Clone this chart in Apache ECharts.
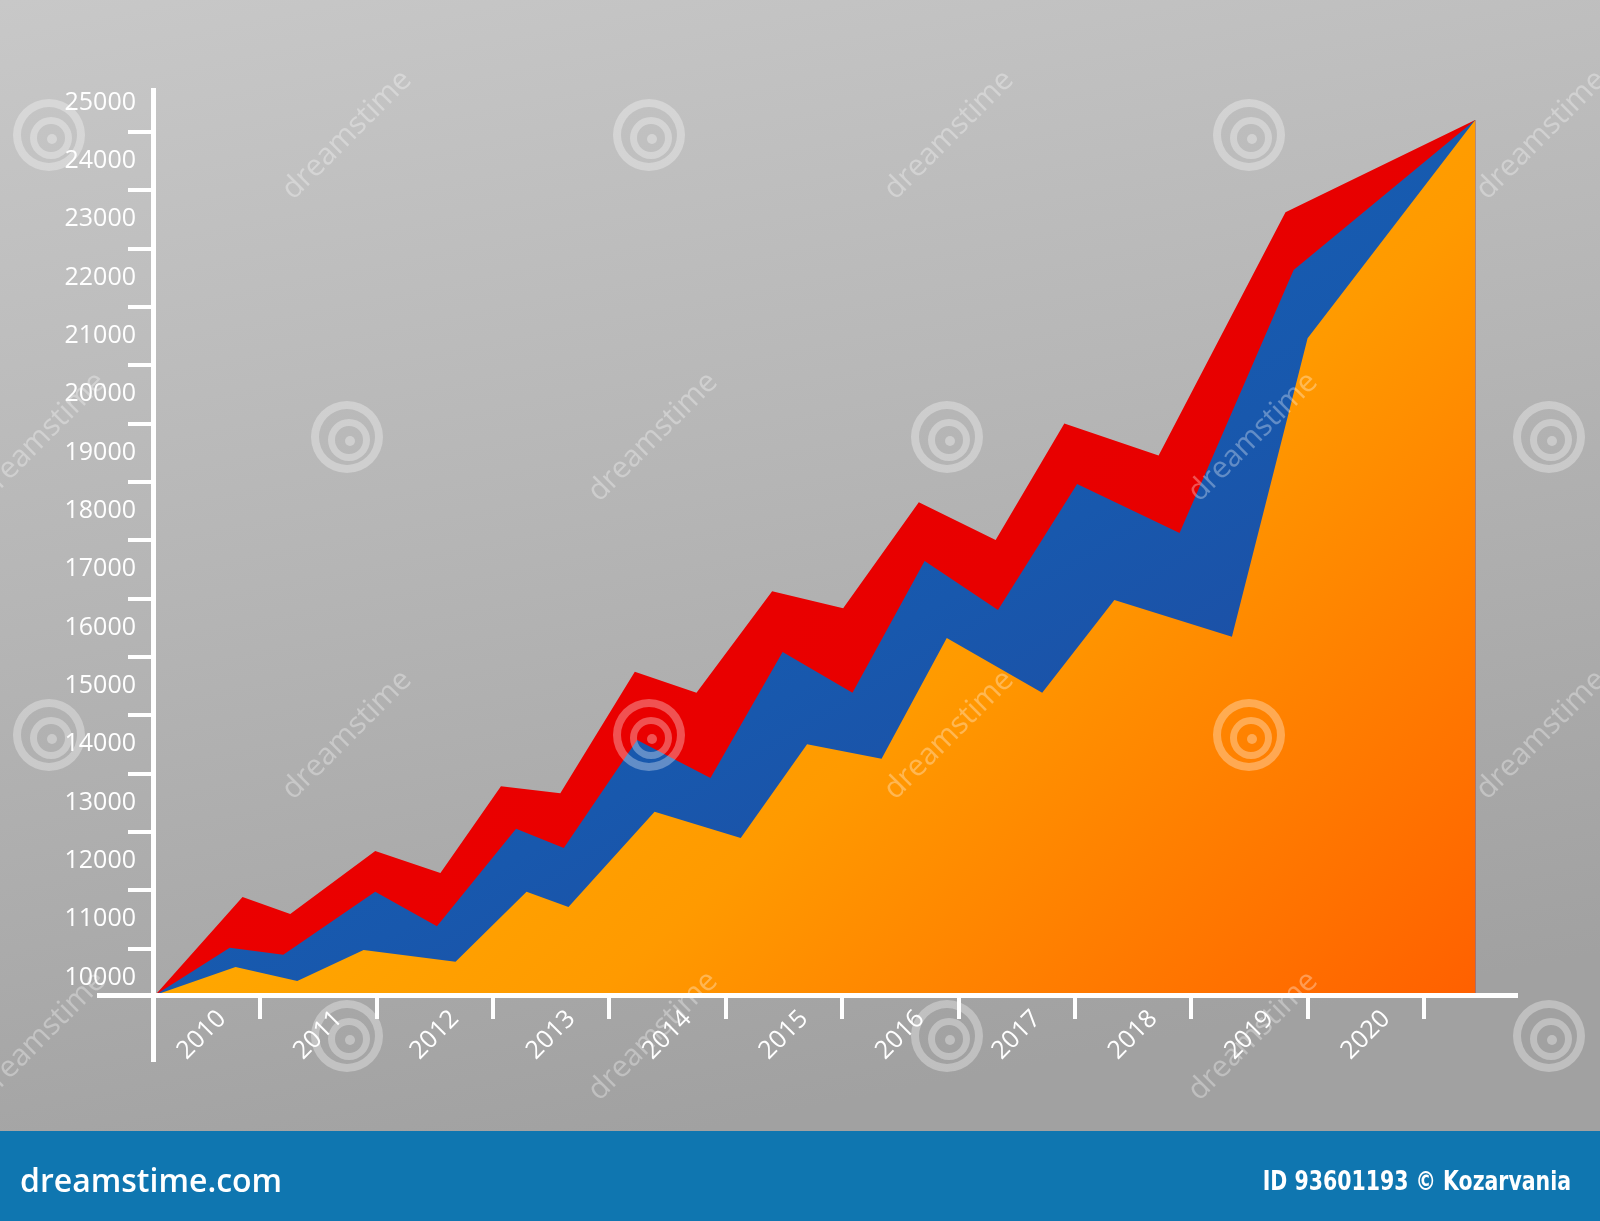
<!DOCTYPE html>
<html>
<head>
<meta charset="utf-8">
<script src="https://cdn.jsdelivr.net/npm/echarts@6.0.0/dist/echarts.min.js"></script>
<style>
html,body{margin:0;padding:0;background:#b5b5b5;}
#chart{width:1600px;height:1221px;}
</style>
</head>
<body>
<div id="chart"></div>
<script>
// ---- data ----
const years = [2010, 2011, 2012, 2013, 2014, 2015, 2016, 2017, 2018, 2019, 2020];
const yLabels = [10000, 11000, 12000, 13000, 14000, 15000, 16000, 17000, 18000, 19000, 20000, 21000, 22000, 23000, 24000, 25000];

// top (red) band outline
const redX = [2009.6, 2010.35, 2010.76, 2011.49, 2012.05, 2012.57, 2013.08, 2013.72, 2014.25, 2014.90, 2015.51, 2016.16, 2016.82, 2017.41, 2018.22, 2019.31, 2020.94];
const redY = [9700, 11380, 11090, 12170, 11790, 13280, 13160, 15240, 14880, 16620, 16330, 18150, 17500, 19500, 18950, 23120, 24700];
// middle (blue) band outline
const blueX = [2009.6, 2010.24, 2010.70, 2011.49, 2012.02, 2012.70, 2013.11, 2013.74, 2014.37, 2014.99, 2015.59, 2016.21, 2016.84, 2017.52, 2018.40, 2019.38, 2020.94];
const blueY = [9700, 10510, 10390, 11470, 10880, 12550, 12220, 14070, 13420, 15580, 14880, 17140, 16300, 18460, 17620, 22130, 24700];
// bottom (orange) band outline
const orangeX = [2009.6, 2010.29, 2010.82, 2011.39, 2012.18, 2012.79, 2013.15, 2013.89, 2014.63, 2015.20, 2015.84, 2016.40, 2017.22, 2017.84, 2018.85, 2019.50, 2020.94];
const orangeY = [9700, 10180, 9940, 10470, 10270, 11470, 11210, 12840, 12390, 14000, 13750, 15820, 14880, 16470, 15840, 20960, 24700];

const footerLeft = 'dreamstime.com';
const footerRight = 'ID 93601193 \u00A9 Kozarvania';
const watermarkText = 'dreamstime';

// ---- build ----
const pairs = (xs, ys) => xs.map((x, i) => [x, ys[i]]);
const xTicks = years.map(y => y + 0.5);
const yTicks = yLabels.slice(0, -1).map(v => v + 500);

const X_MIN = 2009.5808, X_MAX = 2021.3076;
const Y_MIN = 9700, Y_MAX = 25250;

const chart = echarts.init(document.getElementById('chart'), null, {renderer: 'canvas'});

const white = '#ffffff';
const font = '"Open Sans", "Noto Sans", sans-serif';
const wm = 'rgba(255,255,255,0.32)';

// watermark grid (decorative, from the stock-image overlay)
const wmGraphics = [];
const spiralCols = [49, 649, 1249], spiralColsB = [347, 947, 1549];
const rowsA = [135, 735], rowsB = [437, 1036];
const spiralAt = (cx, cy) => {
  wmGraphics.push({type: 'ring', silent: true, z: 15, shape: {cx, cy, r: 36, r0: 28}, style: {fill: wm}});
  wmGraphics.push({type: 'ring', silent: true, z: 15, shape: {cx: cx + 2, cy: cy + 3, r: 21, r0: 14}, style: {fill: wm}});
  wmGraphics.push({type: 'circle', silent: true, z: 15, shape: {cx: cx + 3, cy: cy + 4, r: 5}, style: {fill: wm}});
};
const wmTextAt = (x, y) => {
  wmGraphics.push({type: 'text', silent: true, z: 15, x, y, rotation: Math.PI / 4,
    style: {text: watermarkText, fill: wm, font: '30px "Open Sans", sans-serif', align: 'center', verticalAlign: 'middle'}});
};
rowsA.forEach(r => spiralCols.forEach(c => spiralAt(c, r)));
rowsB.forEach(r => spiralColsB.forEach(c => spiralAt(c, r)));
rowsA.forEach(r => [347, 949, 1541].forEach(c => wmTextAt(c, r)));
rowsB.forEach(r => [41, 653, 1253].forEach(c => wmTextAt(c, r)));

chart.setOption({
  animation: false,
  backgroundColor: {
    type: 'linear', x: 0, y: 0, x2: 0.15, y2: 1,
    colorStops: [
      {offset: 0, color: '#c8c8c8'},
      {offset: 0.5, color: '#b5b5b5'},
      {offset: 1, color: '#a1a1a1'}
    ]
  },
  grid: [
    {left: 153, top: 88, width: 1365, height: 907, containLabel: false, outerBoundsMode: 'none'},
    {left: 97, top: 88, width: 1421, height: 907, containLabel: false, outerBoundsMode: 'none'},
    {left: 153, top: 88, width: 1365, height: 974, containLabel: false, outerBoundsMode: 'none'}
  ],
  xAxis: [
    {
      gridIndex: 0, type: 'value', min: X_MIN, max: X_MAX,
      axisLine: {show: false, onZero: false},
      splitLine: {show: false},
      axisTick: {show: true, customValues: xTicks, length: 24, lineStyle: {color: white, width: 4}},
      axisLabel: {
        show: true, customValues: years, rotate: 45, align: 'center', verticalAlign: 'middle',
        margin: 40, color: white, fontFamily: font, fontSize: 25,
        formatter: v => String(Math.round(v))
      }
    },
    {
      gridIndex: 1, type: 'value', min: 0, max: 1, z: 10,
      axisLine: {show: true, onZero: false, lineStyle: {color: white, width: 5, cap: 'butt'}},
      axisTick: {show: false}, axisLabel: {show: false}, splitLine: {show: false}
    },
    {gridIndex: 2, type: 'value', min: 0, max: 1, show: false}
  ],
  yAxis: [
    {
      gridIndex: 0, type: 'value', min: Y_MIN, max: Y_MAX,
      axisLine: {show: false, onZero: false},
      splitLine: {show: false},
      axisTick: {show: true, customValues: yTicks, length: 25, lineStyle: {color: white, width: 4}},
      axisLabel: {show: true, customValues: yLabels, margin: 17, color: white, fontFamily: font, fontSize: 25,
        formatter: v => String(v)}
    },
    {gridIndex: 1, type: 'value', min: 0, max: 1, show: false},
    {
      gridIndex: 2, type: 'value', min: 0, max: 1, z: 10,
      axisLine: {show: true, onZero: false, lineStyle: {color: white, width: 5, cap: 'butt'}},
      axisTick: {show: false}, axisLabel: {show: false}, splitLine: {show: false}
    }
  ],
  series: [
    {
      name: 'red', type: 'line', xAxisIndex: 0, yAxisIndex: 0, data: pairs(redX, redY),
      symbol: 'none', silent: true, z: 2,
      lineStyle: {width: 0},
      areaStyle: {origin: 'start', opacity: 1, color: {
        type: 'linear', x: 0, y: 0, x2: 1, y2: 1,
        colorStops: [{offset: 0, color: '#ee0000'}, {offset: 1, color: '#e40000'}]
      }}
    },
    {
      name: 'blue', type: 'line', xAxisIndex: 0, yAxisIndex: 0, data: pairs(blueX, blueY),
      symbol: 'none', silent: true, z: 3,
      lineStyle: {width: 0},
      areaStyle: {origin: 'start', opacity: 1, color: {
        type: 'linear', x: 0.3, y: 0, x2: 0.7, y2: 1,
        colorStops: [{offset: 0, color: '#1366ba'}, {offset: 0.6, color: '#1858ad'}, {offset: 1, color: '#2049a0'}]
      }}
    },
    {
      name: 'orange', type: 'line', xAxisIndex: 0, yAxisIndex: 0, data: pairs(orangeX, orangeY),
      symbol: 'none', silent: true, z: 4,
      lineStyle: {width: 0},
      areaStyle: {origin: 'start', opacity: 1, color: {
        type: 'linear', x: 0.4, y: 0, x2: 1, y2: 1,
        colorStops: [{offset: 0, color: '#ffb400'}, {offset: 0.5, color: '#ff9a00'}, {offset: 1, color: '#ff6000'}]
      }}
    }
  ],
  graphic: wmGraphics.concat([
    {type: 'rect', left: 0, top: 1131, z: 20, shape: {width: 1600, height: 90}, style: {fill: '#0f76b0'}, silent: true},
    {type: 'text', x: 20, y: 1183, z: 21, silent: true,
      style: {text: footerLeft, fill: white, font: '600 32px "Open Sans", sans-serif', align: 'left', verticalAlign: 'middle'}},
    {type: 'text', x: 1571, y: 1183, z: 21, silent: true, scaleX: 0.875,
      style: {text: footerRight, fill: white, font: 'bold 26px "Liberation Sans Narrow", "DejaVu Sans Condensed", sans-serif', align: 'right', verticalAlign: 'middle'}}
  ])
});
</script>
</body>
</html>
